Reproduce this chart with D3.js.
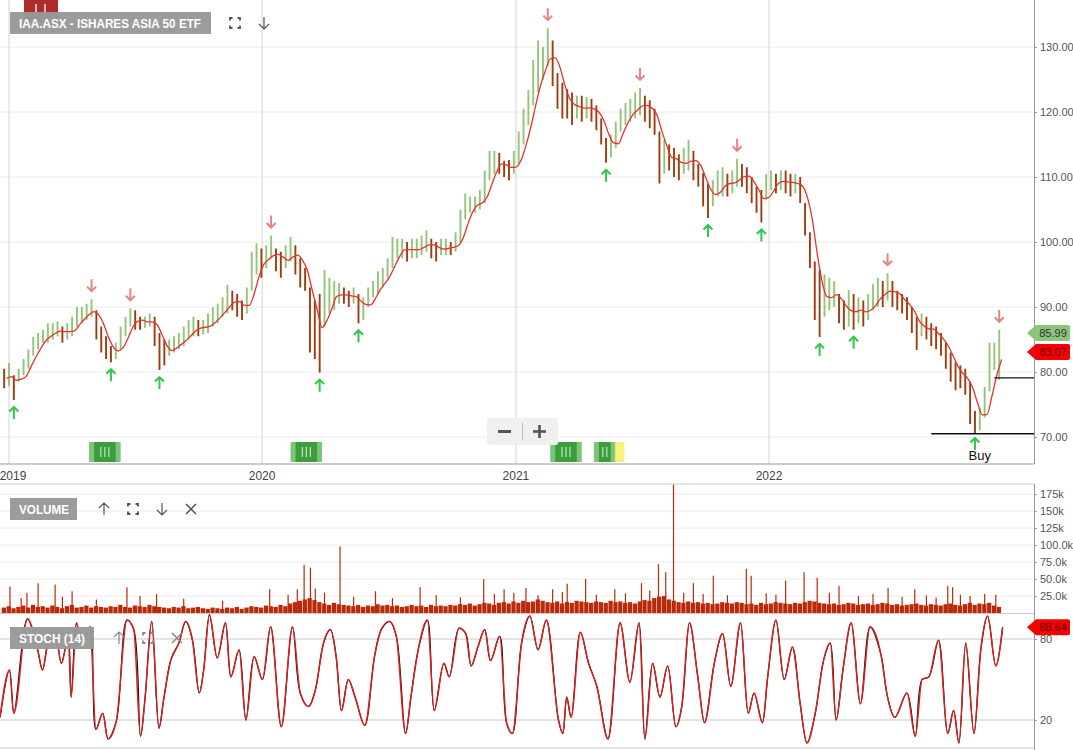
<!DOCTYPE html>
<html>
<head>
<meta charset="utf-8">
<script src="https://cdn.jsdelivr.net/npm/d3@7"></script>
<style>
  body { margin: 0; background: #fff; }
  svg { display: block; font-family: "Liberation Sans", Arial, sans-serif; }
</style>
</head>
<body>
<svg id="chart" width="1073" height="750"></svg>
<script>
// weekly bars, first bar is week -1 (counted from 1 Jan 2019)
var firstWeek = -1;
var weekHigh = [
  80.5, 81.4, 79.5, 80.5, 82, 83.5, 85.4, 86, 86.5, 87.5,
  87.5, 87.8, 87, 87.5, 88.5, 90, 90, 90.5, 91.2, 89.5,
  87, 85.5, 84, 84.5, 87, 88.5, 89.8, 89.5, 88.5, 88.5,
  89, 88.5, 86, 85, 85, 85.5, 86, 87, 88, 88.5,
  88, 88, 89, 90, 90.5, 91.5, 93.4, 92.5, 92, 91,
  93, 98.5, 99.8, 99, 99.5, 101, 99, 98.5, 99.5, 100.8,
  99.5, 97.5, 96, 93, 91, 92, 95.7, 94.5, 94, 93.7,
  93, 92.5, 93, 92, 91.5, 93, 94, 95.5, 96, 97.5,
  100.8, 100.5, 100.5, 100, 100.5, 100.5, 101, 101.8, 100.5, 100,
  100.5, 100.5, 100, 101.5, 105, 107.5, 107, 107, 108, 111,
  114, 114, 113.7, 112.5, 112.6, 114, 117, 120.5, 123.4, 128,
  131, 130, 132.9, 131, 126, 124.5, 123.5, 123, 122.5, 122.5,
  122.3, 122, 121, 119, 116, 116.5, 118.5, 120.5, 121.4, 122,
  123, 123.7, 122.5, 121.8, 120.5, 117, 115.7, 115, 114.5, 113.5,
  114.5, 115.7, 114, 112, 110.6, 109, 109.5, 111, 111.5, 110.5,
  111, 112.8, 112, 111.5, 110, 108.5, 108, 110.5, 111, 110.5,
  111, 111, 110.5, 110.5, 110, 106, 101.5, 97, 95.7, 95,
  94.5, 94, 92, 91, 92.6, 92, 91.5, 91, 92, 93.5,
  94.5, 94, 95.2, 94, 92.5, 92, 91.5, 90, 88.5, 89,
  88.5, 87.5, 87, 86, 84.5, 83, 81.5, 81, 80.5, 78.5,
  74, 74.5, 77.7, 84.5, 84.5, 86.5
];
var weekLow = [
  77.5, 77.8, 75.7, 78.5, 79.5, 80.5, 82.5, 83.5, 84.5, 84.5,
  85, 85.5, 84.5, 85, 85.5, 87, 87.5, 88, 88.5, 85,
  83, 82, 81.5, 82, 83.5, 85.5, 87, 86.5, 86.5, 86.8,
  87, 84, 80.3, 81, 82.5, 83, 83.5, 84, 85, 85.5,
  85.5, 85.8, 86, 87, 87.5, 88.5, 89, 89.5, 88.5, 88,
  89, 92.5, 95, 94.5, 96, 97.5, 95.5, 94.5, 96, 97,
  95, 93, 92.5, 83, 82, 79.9, 87, 89, 89.5, 90.5,
  90.5, 90, 90.5, 87.5, 88, 90, 91.5, 92, 93, 94.5,
  96, 97.5, 97.5, 97, 97.5, 97.5, 98, 98.5, 97.5, 97,
  98, 98, 98, 98.5, 100, 103.5, 104.5, 104.5, 105, 106,
  109.5, 110.5, 110.5, 110, 109.5, 110.5, 112, 115, 118, 121,
  123, 125, 127, 124, 120.5, 119, 119, 118, 119, 118.5,
  119, 118.5, 117.2, 115, 112.2, 113, 114.5, 117, 118, 118.5,
  119, 119.5, 118.5, 117.5, 116.5, 109, 110.5, 111, 110, 109.5,
  110.5, 111, 109.5, 108.5, 105.5, 103.7, 105.5, 107, 107, 107,
  107.5, 108.5, 108.5, 107.5, 106, 104.5, 103, 106.5, 108, 107.5,
  108, 107.5, 107, 107.5, 106, 101, 96, 88, 85.4, 88.5,
  89.5, 90, 87.5, 86.5, 87, 86.5, 87.5, 87, 88, 89.5,
  90, 90, 91, 90, 89.5, 89, 88, 86, 83.4, 85.5,
  85, 84, 83.5, 82.5, 80.5, 78.5, 77.2, 77.5, 76.5, 72,
  70.5, 71, 73, 77, 80.3, 78.8
];

// weekly volume (thousands) and single-day spikes
var volWeekly = [
  8, 10, 7, 9, 11, 8, 12, 9, 10, 8, 11,
  9, 7, 10, 12, 8, 9, 11, 8, 10, 9,
  8, 10, 9, 12, 9, 8, 11, 10, 9, 12,
  10, 9, 8, 7, 9, 8, 10, 7, 8, 9,
  7, 6, 8, 7, 6, 8, 7, 9, 6, 8,
  10, 9, 8, 11, 10, 9, 12, 10, 14, 16,
  18, 20, 22, 19, 16, 14, 12, 15, 13, 12,
  11, 10, 12, 9, 11, 10, 13, 11, 12, 10,
  11, 9, 10, 12, 10, 11, 9, 12, 10, 11,
  10, 12, 11, 13, 12, 14, 11, 13, 15, 14,
  12, 15, 16, 14, 17, 15, 18, 16, 17, 20,
  18, 16, 15, 17, 14, 16, 15, 18, 17, 16,
  15, 17, 16, 15, 18, 16, 17, 15, 16, 14,
  17, 19, 18, 22, 24, 25, 20, 18, 16, 15,
  17, 15, 16, 14, 15, 13, 14, 16, 15, 14,
  16, 15, 13, 14, 12, 15, 13, 14, 16, 15,
  14, 13, 15, 14, 16, 18, 17, 15, 14, 13,
  14, 12, 13, 15, 14, 12, 13, 14, 12, 13,
  15, 14, 12, 13, 11, 12, 13, 14, 12, 11,
  13, 12, 11, 13, 14, 12, 11, 13, 15, 12,
  14, 13, 15, 11, 9
];
var spikeWeek = [0.2, 3.7, 6, 9.5, 13, 24.3, 30.4, 53.7, 59.4, 60.8, 62.1, 63.1, 68.2, 75.5, 84.7, 97.8,
  102, 106.5, 112, 115, 118.8, 124.8, 130.3, 133.8, 135.3, 136.9, 141, 145.1, 151.9, 152.9, 160,
  163.8, 166.5, 171, 181.1, 186.6, 193.4, 194.4, 198, 203.3,
  2.5, 11, 18, 27, 36, 44, 57.5, 65, 71, 79, 88, 93, 100, 104, 109, 114, 121, 127,
  132, 139, 143, 148, 156, 158, 169, 175, 178, 184, 189, 191, 196, 201];
var spikeVol = [39, 30, 44, 42, 32, 38, 28, 35, 35, 71, 67, 36, 98, 32, 38, 50,
  35, 37, 35, 43, 50, 35, 44, 72, 60, 194, 44, 55, 65, 55, 48,
  60, 52, 40, 37, 35, 40, 38, 25, 27,
  22, 24, 20, 25, 21, 18, 27, 30, 24, 22, 26, 23, 28, 30, 26, 31, 27, 29,
  33, 30, 28, 26, 29, 27, 30, 25, 28, 24, 26, 23, 27, 28];

// stochastic (14) turning points
var stochWeek = [-1.85, 0.1, 1, 3.8, 5.9, 6.9, 8, 9.4, 10.8, 12.2, 12.8, 13.9, 15, 16.7, 17.9, 19.3, 20.4, 22.1,
  24.3, 25.7, 27.1, 28, 29.4, 30.9, 31.9, 33.3, 35, 36.4, 37.8, 39.2, 40.1, 41.3, 42.9, 44.6, 45.7,
  47.4, 48.8, 50.5, 52.2, 53.9, 56.1, 58.4, 60, 61.7, 63.1, 64.8, 66.2, 67.4, 68.5, 69.9, 71.3, 73.3,
  75.3, 76.7, 78.4, 79.8, 81.7, 82.8, 84.3, 86.2, 87.6, 89.6, 90.7, 92.7, 94.1, 95.2, 96.6, 98, 99.2,
  101.1, 102.5, 103.7, 105.6, 107.3, 109, 110.7, 113.2, 114.1, 114.9, 115.8, 117.7, 119.4, 121.1,
  123.4, 125.9, 127.9, 129.8, 131, 132.6, 134.1, 135.7, 137.4, 138.6, 140.2, 141.9, 143.3, 145.3,
  147, 148.7, 150.7, 152.3, 153.5, 155.2, 156.3, 158, 159.7, 161.4, 163, 164.4, 166.1, 167.8, 169.2,
  170.4, 171.8, 173.5, 175.4, 177.4, 179.6, 181, 182.5, 185, 186.7, 188.1, 189.5, 191.5, 193.4,
  194.6, 195.7, 197.1, 198.8, 200.2, 201.6, 203.3, 204.7];
var stochK = [22, 57, 25, 95, 72, 57, 77, 87, 62, 82, 37, 92, 74, 89, 13, 25, 6, 19,
  94, 87, 8, 35, 93, 14, 36, 64, 77, 93, 79, 40, 57, 98, 66, 92, 52,
  72, 20, 67, 50, 89, 15, 89, 40, 30, 42, 77, 87, 67, 27, 50, 37, 16,
  67, 87, 93, 82, 10, 37, 72, 94, 27, 62, 52, 88, 84, 60, 74, 87, 64,
  82, 18, 10, 77, 97, 72, 94, 20, 10, 37, 22, 85, 62, 45,
  6, 92, 48, 92, 6, 62, 37, 60, 15, 30, 92, 52, 18, 62,
  84, 45, 92, 25, 40, 18, 52, 94, 50, 74, 32, 3, 25, 64, 77,
  20, 57, 92, 32, 89, 69, 37, 22, 40, 8, 50, 52, 79, 10,
  27, 3, 77, 10, 72, 97, 60, 88.6];

// signal markers
var upArrowWeek = [1, 21, 31, 64, 72, 123, 144, 155, 167, 174, 199];
var downArrowWeek = [17, 25, 54, 111, 130, 150, 181, 204];
var signalStart = [16.5, 58, 111.5, 120.5, 124.8];
var signalEnd = [23, 64.5, 118, 125, 126.8];
var signalKind = ['buy', 'buy', 'buy', 'buy', 'watch'];
var supportLevel = [70.5, 79.1];
var supportFrom = [190, 203];
var lastPrice = 85.99, lastAvg = 83.07, lastStoch = 88.64;

var priceTicks = [70, 80, 90, 100, 110, 120, 130];
var volTicks = [25, 50, 75, 100, 125, 150, 175];
var stochTicks = [20, 80];

var svg = d3.select('#chart');
var axisX = 1034;
var t0 = Date.UTC(2019, 0, 1);
function weekDate(w) { return new Date(t0 + w * 7 * 864e5); }

var x = d3.scaleUtc()
  .domain([new Date(Date.UTC(2019, 0, 1)), new Date(Date.UTC(2022, 0, 1))])
  .range([9, 769]);
var y = d3.scaleLinear().domain([70, 130]).range([437, 47]);
var yVol = d3.scaleLinear().domain([0, 190]).range([613, 484]);
var yStoch = d3.scaleLinear().domain([0, 100]).range([747, 612]);

var defs = svg.append('defs');
defs.append('clipPath').attr('id', 'clipMain').append('rect').attr('x', 0).attr('y', 0).attr('width', axisX).attr('height', 464);
defs.append('clipPath').attr('id', 'clipVol').append('rect').attr('x', 0).attr('y', 484).attr('width', axisX).attr('height', 129);
defs.append('clipPath').attr('id', 'clipStoch').append('rect').attr('x', 0).attr('y', 613).attr('width', axisX).attr('height', 137);

// ---------- grid ----------
svg.append('g').selectAll('line').data(priceTicks).enter().append('line')
  .attr('x1', 0).attr('x2', axisX).attr('y1', function(d){ return y(d); }).attr('y2', function(d){ return y(d); })
  .style('stroke', '#ececec');
var years = x.ticks(d3.utcYear.every(1));
svg.append('g').selectAll('line').data(years).enter().append('line')
  .attr('x1', function(d){ return x(d); }).attr('x2', function(d){ return x(d); })
  .attr('y1', 0).attr('y2', 464).style('stroke', '#d4d4d4');
svg.append('g').selectAll('line').data(volTicks).enter().append('line')
  .attr('x1', 0).attr('x2', axisX).attr('y1', function(d){ return yVol(d); }).attr('y2', function(d){ return yVol(d); })
  .style('stroke', '#ececec');
svg.append('g').selectAll('line').data(stochTicks).enter().append('line')
  .attr('x1', 0).attr('x2', axisX).attr('y1', function(d){ return yStoch(d); }).attr('y2', function(d){ return yStoch(d); })
  .style('stroke', '#c8c8c8');

// ---------- signal blocks ----------
var sig = svg.append('g');
signalStart.forEach(function(s, i){
  var x1 = x(weekDate(s)), x2 = x(weekDate(signalEnd[i]));
  if (signalKind[i] == 'watch') {
    sig.append('rect').attr('x', x1).attr('y', 442).attr('width', x2 - x1).attr('height', 20).style('fill', '#f3f35a').style('opacity', 0.8);
    return;
  }
  sig.append('rect').attr('x', x1).attr('y', 442).attr('width', x2 - x1).attr('height', 20).style('fill', '#7cc47a');
  sig.append('rect').attr('x', x1 + 5).attr('y', 442).attr('width', x2 - x1 - 10).attr('height', 20).style('fill', '#3c9e3a');
  var n = (x2 - x1) > 28 ? 3 : 2;
  for (var k = 0; k < n; k++) {
    var lx = x1 + (x2 - x1) / 2 + (k - (n - 1) / 2) * 4;
    sig.append('line').attr('x1', lx).attr('x2', lx).attr('y1', 447).attr('y2', 457).style('stroke', '#dff0dc').style('stroke-width', 1);
  }
});

// ---------- price bars ----------
var bars = weekHigh.map(function(h, i){
  return { w: firstWeek + i, hi: h, lo: weekLow[i], mid: (h + weekLow[i]) / 2 };
});
bars.forEach(function(b, i){
  b.up = i > 0 && b.mid >= bars[i - 1].mid;
  var from = Math.max(0, i - 2), s = 0;
  for (var k = from; k <= i; k++) s += bars[k].mid;
  b.ma = s / (i - from + 1);
});
var main = svg.append('g').attr('clip-path', 'url(#clipMain)');
main.selectAll('line.bar').data(bars).enter().append('line').attr('class', 'bar')
  .attr('x1', function(d){ return x(weekDate(d.w)); })
  .attr('x2', function(d){ return x(weekDate(d.w)); })
  .attr('y1', function(d){ return y(d.hi); })
  .attr('y2', function(d){ return y(d.lo); })
  .style('stroke', function(d){ return d.up ? '#93c47a' : '#9e3c10'; })
  .style('stroke-width', 1.9);
var maLine = d3.line()
  .x(function(d){ return x(weekDate(d.w + 0.5)); })
  .y(function(d){ return y(d.ma); })
  .curve(d3.curveMonotoneX);
main.append('path').datum(bars).attr('d', maLine)
  .style('fill', 'none').style('stroke', '#e8302c').style('stroke-width', 1.3);

// support lines + Buy
supportLevel.forEach(function(lv, i){
  main.append('line').attr('x1', x(weekDate(supportFrom[i]))).attr('x2', axisX)
    .attr('y1', y(lv)).attr('y2', y(lv)).style('stroke', '#111').style('stroke-width', 1.3);
});

// arrows
function arrow(g, cx, cy, dir, color) {
  var s = dir; // 1 = up, -1 = down
  g.append('path')
    .attr('d', 'M' + cx + ',' + (cy + 6 * s) + 'L' + cx + ',' + (cy - 6 * s) +
      'M' + (cx - 4.5) + ',' + (cy - 1.5 * s) + 'L' + cx + ',' + (cy - 6 * s) + 'L' + (cx + 4.5) + ',' + (cy - 1.5 * s))
    .style('fill', 'none').style('stroke', color).style('stroke-width', 2);
}
var arrowsG = svg.append('g');
upArrowWeek.forEach(function(w){
  var b = bars[w - firstWeek];
  var cy = Math.min(y(b.lo) + 13, 444);
  arrow(arrowsG, x(weekDate(w)), cy, 1, '#2fc84a');
});
downArrowWeek.forEach(function(w){
  var b = bars[w - firstWeek];
  arrow(arrowsG, x(weekDate(w)), y(b.hi) - 14, -1, '#e58585');
});
svg.append('text').attr('x', x(weekDate(200))).attr('y', 460).attr('text-anchor', 'middle')
  .style('font-size', '13px').style('fill', '#111').text('Buy');

// ---------- volume ----------
var vol = svg.append('g').attr('clip-path', 'url(#clipVol)');
var bw = x(weekDate(1)) - x(weekDate(0));
vol.selectAll('rect').data(volWeekly).enter().append('rect')
  .attr('x', function(d, i){ return x(weekDate(firstWeek + i)) - bw / 2; })
  .attr('width', bw - 0.6)
  .attr('y', function(d){ return yVol(d); })
  .attr('height', function(d){ return yVol(0) - yVol(d); })
  .style('fill', '#bb2a08');
vol.selectAll('line').data(spikeVol).enter().append('line')
  .attr('x1', function(d, i){ return x(weekDate(spikeWeek[i])); })
  .attr('x2', function(d, i){ return x(weekDate(spikeWeek[i])); })
  .attr('y1', yVol(0)).attr('y2', function(d){ return yVol(d); })
  .style('stroke', '#bb2a08').style('stroke-width', 1.2);

// ---------- stochastic ----------
var st = svg.append('g').attr('clip-path', 'url(#clipStoch)');
var stPts = stochK.map(function(v, i){ return [x(weekDate(stochWeek[i])), yStoch(v)]; });
st.append('path').attr('d', d3.line().curve(d3.curveCatmullRom.alpha(0.5))(stPts))
  .style('fill', 'none').style('stroke', '#111').style('stroke-width', 1.2);
st.append('path').attr('d', d3.line().curve(d3.curveMonotoneX)(stPts))
  .style('fill', 'none').style('stroke', '#d81e1e').style('stroke-width', 1.5);

// ---------- frames ----------
svg.append('line').attr('x1', 0).attr('x2', axisX).attr('y1', 464).attr('y2', 464).style('stroke', '#999');
svg.append('line').attr('x1', 0).attr('x2', axisX).attr('y1', 484).attr('y2', 484).style('stroke', '#ccc');
svg.append('line').attr('x1', 0).attr('x2', axisX).attr('y1', 613.5).attr('y2', 613.5).style('stroke', '#ccc');
svg.append('line').attr('x1', 0).attr('x2', axisX).attr('y1', 748).attr('y2', 748).style('stroke', '#ccc');

// ---------- axes ----------
function styleAxis(g) {
  g.select('.domain').style('stroke', '#999');
  g.selectAll('.tick line').style('stroke', '#999');
  g.selectAll('.tick text').style('fill', '#555').style('font-size', '11px').attr('x', 6);
}
svg.append('g').attr('transform', 'translate(' + axisX + ',0)')
  .call(d3.axisRight(y).tickValues(priceTicks).tickFormat(d3.format('.2f')).tickSize(3).tickSizeOuter(0))
  .call(styleAxis)
  .select('.domain').attr('d', 'M0.5,0V464');
svg.append('g').attr('transform', 'translate(' + axisX + ',0)')
  .call(d3.axisRight(yVol).tickValues(volTicks).tickFormat(function(d){ return d > 100 ? d + 'k' : d.toFixed(1) + 'k'; }).tickSize(3).tickSizeOuter(0))
  .call(styleAxis)
  .select('.domain').attr('d', 'M0.5,484V613');
svg.append('g').attr('transform', 'translate(' + axisX + ',0)')
  .call(d3.axisRight(yStoch).tickValues(stochTicks).tickSize(3).tickSizeOuter(0))
  .call(styleAxis)
  .select('.domain').attr('d', 'M0.5,613V750');
svg.append('g').selectAll('text').data(years).enter().append('text')
  .attr('x', function(d){ return Math.max(x(d), 13); }).attr('y', 480).attr('text-anchor', 'middle')
  .style('font-size', '12px').style('fill', '#444')
  .text(d3.utcFormat('%Y'));

// price badges
function badge(val, yy, fill, txt) {
  var g = svg.append('g').attr('transform', 'translate(1027,' + yy + ')');
  g.append('path').attr('d', 'M0,0L9,-8H41Q43,-8 43,-6V6Q43,8 41,8H9Z').style('fill', fill);
  g.append('text').attr('x', 26).attr('y', 4).attr('text-anchor', 'middle')
    .style('font-size', '11px').style('fill', txt).text(val.toFixed(2));
}
badge(lastPrice, y(lastPrice), '#8dc47c', '#333');
badge(lastAvg, y(lastAvg), '#f50000', '#600');
badge(lastStoch, yStoch(lastStoch), '#f50000', '#600');

// ---------- labels & controls ----------
var red = svg.append('g');
red.append('rect').attr('x', 24).attr('y', -6).attr('width', 34).attr('height', 28).attr('rx', 3).style('fill', '#a31414').style('opacity', 0.9);
[36, 45].forEach(function(lx){
  red.append('line').attr('x1', lx).attr('x2', lx).attr('y1', 4).attr('y2', 14).style('stroke', '#f2dede').style('stroke-width', 1.6);
});
function label(x0, y0, w, txt, tl) {
  svg.append('rect').attr('x', x0).attr('y', y0).attr('width', w).attr('height', 22).style('fill', '#999').style('opacity', 0.97);
  svg.append('text').attr('x', x0 + 9).attr('y', y0 + 16).attr('textLength', tl).attr('lengthAdjust', 'spacingAndGlyphs')
    .style('font-size', '12.5px').style('font-weight', 'bold').style('fill', '#fff').text(txt);
}
label(10, 12, 201, 'IAA.ASX - ISHARES ASIA 50 ETF', 182);
label(10, 498, 67, 'VOLUME', 50);
label(10, 627, 84, 'STOCH (14)', 66);

function expandIcon(cx, cy, color) {
  var a = 5, b = 2.5;
  svg.append('path').attr('d',
    'M' + (cx - a) + ',' + (cy - a + b) + 'V' + (cy - a) + 'H' + (cx - a + b) +
    'M' + (cx + a - b) + ',' + (cy - a) + 'H' + (cx + a) + 'V' + (cy - a + b) +
    'M' + (cx + a) + ',' + (cy + a - b) + 'V' + (cy + a) + 'H' + (cx + a - b) +
    'M' + (cx - a + b) + ',' + (cy + a) + 'H' + (cx - a) + 'V' + (cy + a - b))
    .style('fill', 'none').style('stroke', color).style('stroke-width', 1.8);
}
function arrowIcon(cx, cy, dir, color) {
  var s = dir;
  svg.append('path').attr('d', 'M' + cx + ',' + (cy + 6 * s) + 'V' + (cy - 6 * s) +
    'M' + (cx - 5) + ',' + (cy - 1 * s) + 'L' + cx + ',' + (cy - 6 * s) + 'L' + (cx + 5) + ',' + (cy - 1 * s))
    .style('fill', 'none').style('stroke', color).style('stroke-width', 1.2);
}
function crossIcon(cx, cy, color) {
  svg.append('path').attr('d', 'M' + (cx - 5) + ',' + (cy - 5) + 'L' + (cx + 5) + ',' + (cy + 5) + 'M' + (cx + 5) + ',' + (cy - 5) + 'L' + (cx - 5) + ',' + (cy + 5))
    .style('stroke', color).style('stroke-width', 1.5);
}
expandIcon(235, 23, '#555');
arrowIcon(264, 23, -1, '#555');
arrowIcon(104, 509, 1, '#555');
expandIcon(133, 509, '#555');
arrowIcon(162, 509, -1, '#555');
crossIcon(191, 509, '#555');
arrowIcon(119, 638, 1, '#888');
expandIcon(148, 638, '#888');
crossIcon(177, 638, '#888');

// zoom buttons
var zb = svg.append('g');
zb.append('rect').attr('x', 487).attr('y', 418).attr('width', 71).attr('height', 27).attr('rx', 2).style('fill', '#f0f0f0');
zb.append('line').attr('x1', 522.5).attr('x2', 522.5).attr('y1', 423).attr('y2', 440).style('stroke', '#bbb');
zb.append('line').attr('x1', 498).attr('x2', 511).attr('y1', 431.5).attr('y2', 431.5).style('stroke', '#555').style('stroke-width', 3);
zb.append('line').attr('x1', 533).attr('x2', 546).attr('y1', 431.5).attr('y2', 431.5).style('stroke', '#555').style('stroke-width', 2.6);
zb.append('line').attr('x1', 539.5).attr('x2', 539.5).attr('y1', 425).attr('y2', 438).style('stroke', '#555').style('stroke-width', 2.6);
</script>
</body>
</html>
